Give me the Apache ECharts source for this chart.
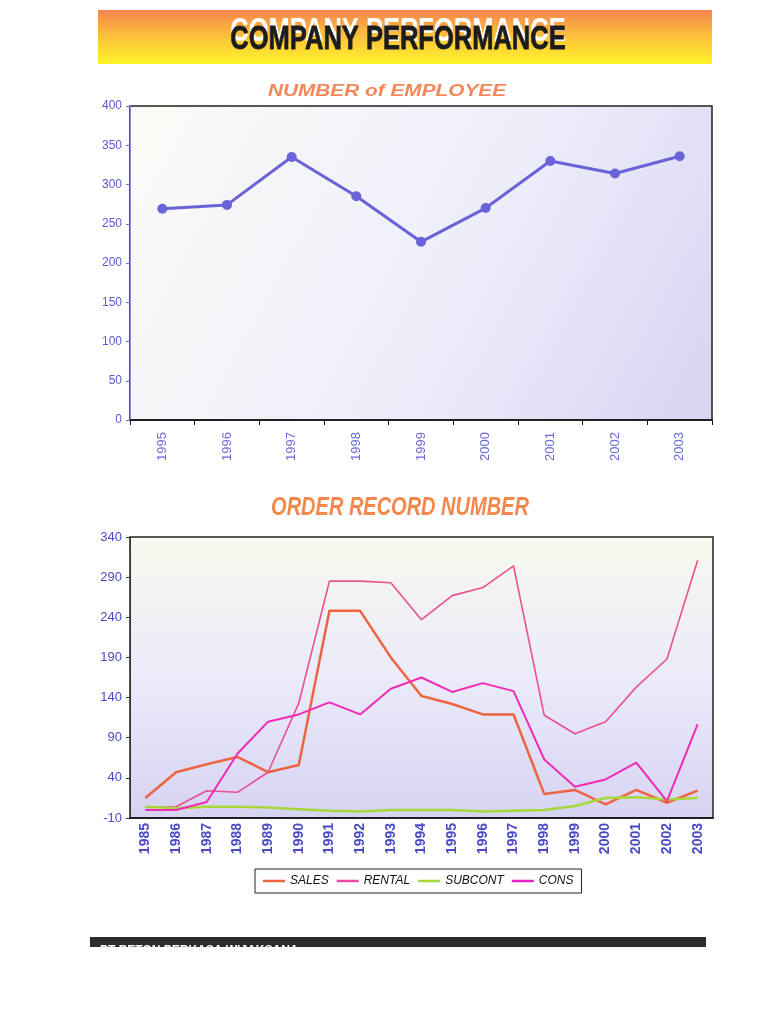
<!DOCTYPE html>
<html>
<head>
<meta charset="utf-8">
<title>Company Performance</title>
<script src="https://cdn.jsdelivr.net/npm/echarts@6/dist/echarts.min.js"></script>
<style>
  html, body { margin: 0; padding: 0; background: #fff; }
  #main { width: 768px; height: 1024px; }
</style>
</head>
<body>
<div id="main"></div>
<script>
// employee chart
const empYears = ['1995', '1996', '1997', '1998', '1999', '2000', '2001', '2002', '2003'];
const employees = [269, 274, 335, 285, 227, 270, 330, 314, 336];

// order record chart
const orderYears = ['1985', '1986', '1987', '1988', '1989', '1990', '1991', '1992', '1993', '1994',
    '1995', '1996', '1997', '1998', '1999', '2000', '2001', '2002', '2003'];
const sales   = [15, 47, 57, 66, 47, 56, 248, 248, 190, 142, 132, 119, 119, 20, 25, 7, 25, 9, 24];
const rental  = [3, 4, 24, 22, 47, 133, 285, 285, 283, 237, 267, 277, 304, 118, 95, 110, 153, 188, 311];
const subcont = [4, 2, 4, 4, 3, 1, -1, -2, 0, 0, 0, -2, -1, 0, 5, 15, 16, 13, 15];
const cons    = [0, 0, 10, 70, 110, 119, 134, 119, 151, 165, 147, 158, 148, 63, 29, 38, 59, 11, 107];

const FONT = '"Liberation Sans", Arial, sans-serif';

let chart = echarts.init(document.getElementById('main'), null, {renderer: 'canvas'});

/*plot area shading*/
let topBg = new echarts.graphic.LinearGradient(0, 0, 1, 1, [
    {offset: 0, color: '#fbfbf6'},
    {offset: 0.55, color: '#eeeefb'},
    {offset: 1, color: '#d8d3f2'}
]);
let bottomBg = new echarts.graphic.LinearGradient(0, 0, 0, 1, [
    {offset: 0, color: '#f8f8ee'},
    {offset: 0.5, color: '#ebebfa'},
    {offset: 1, color: '#d6d3f2'}
]);

let option = {
    backgroundColor: '#fff',
    animation: false,
    textStyle: {fontFamily: FONT},
    graphic: [
        {
            type: 'rect',
            shape: {x: 98, y: 10, width: 614, height: 54},
            style: {
                fill: new echarts.graphic.LinearGradient(0, 0, 0, 1, [
                    {offset: 0, color: '#f9844e'},
                    {offset: 0.45, color: '#fcbd3c'},
                    {offset: 1, color: '#fff42c'}
                ])
            }
        },
        // white echo of the title, shifted up
        {
            type: 'text', x: 398, y: 32, scaleX: 0.75,
            style: {text: 'COMPANY PERFORMANCE', fill: '#fff', textAlign: 'center',
                textVerticalAlign: 'middle', font: 'bold 34px ' + FONT}
        },
        {
            type: 'text', x: 398, y: 40, scaleX: 0.75,
            style: {text: 'COMPANY PERFORMANCE', fill: '#1c1c1c', textAlign: 'center',
                textVerticalAlign: 'middle', font: 'bold 34px ' + FONT,
                stroke: '#1c1c1c', lineWidth: 0.8}
        },
        {
            type: 'text', x: 387, y: 92, scaleX: 1.3,
            style: {text: 'NUMBER of EMPLOYEE', fill: '#f4885a', textAlign: 'center',
                textVerticalAlign: 'middle', font: 'italic bold 16px ' + FONT}
        },
        {
            type: 'text', x: 400, y: 508, scaleX: 0.8,
            style: {text: 'ORDER RECORD NUMBER', fill: '#f4884c', textAlign: 'center',
                textVerticalAlign: 'middle', font: 'italic bold 25px ' + FONT}
        },
        // footer strip, only the tops of the letters show in the bar
        {
            type: 'text', x: 100, y: 945,
            style: {text: 'PT BETON PERKASA WIJAKSANA', fill: '#fff', textAlign: 'left',
                textVerticalAlign: 'top', font: 'bold 12px ' + FONT}
        },
        {
            type: 'rect', z: -1,
            shape: {x: 90, y: 937, width: 616, height: 10},
            style: {fill: '#2b2b2b'}
        }
    ],
    legend: {
        data: ['SALES', 'RENTAL', 'SUBCONT', 'CONS'],
        icon: 'rect',
        left: 255,
        top: 869,
        itemWidth: 22,
        itemHeight: 2.5,
        itemGap: 8,
        padding: [6, 8],
        borderColor: '#222',
        borderWidth: 1,
        textStyle: {fontStyle: 'italic', fontSize: 12, color: '#111', fontFamily: FONT}
    },
    grid: [
        {left: 130, top: 106, width: 582, height: 314, show: true,
            backgroundColor: topBg, borderColor: '#222', borderWidth: 1.5},
        {left: 130, top: 537, width: 583, height: 281, show: true,
            backgroundColor: bottomBg, borderColor: '#222', borderWidth: 1.5}
    ],
    xAxis: [
        {
            gridIndex: 0, type: 'category', data: empYears, boundaryGap: true,
            axisLine: {onZero: false, lineStyle: {color: '#111', width: 1.5}},
            axisTick: {show: true, length: 5, lineStyle: {color: '#111'}},
            axisLabel: {rotate: 90, margin: 12, color: '#6a6ad8', fontSize: 13, fontFamily: FONT}
        },
        {
            gridIndex: 1, type: 'category', data: orderYears, boundaryGap: true,
            axisLine: {onZero: false, lineStyle: {color: '#111', width: 1.5}},
            axisTick: {show: false},
            axisLabel: {rotate: 90, margin: 5, color: '#4a4ac8', fontSize: 14,
                fontWeight: 'bold', fontFamily: FONT}
        }
    ],
    yAxis: [
        {
            gridIndex: 0, type: 'value', min: 0, max: 400, interval: 50,
            splitLine: {show: false},
            axisLine: {show: true, lineStyle: {color: '#8a8ae0', width: 1}},
            axisTick: {show: true, length: 4, lineStyle: {color: '#6a6ad8'}},
            axisLabel: {color: '#5a5ad0', fontSize: 12, margin: 8, fontFamily: FONT}
        },
        {
            gridIndex: 1, type: 'value', min: -10, max: 340, interval: 50,
            splitLine: {show: false},
            axisLine: {show: true, lineStyle: {color: '#333', width: 1}},
            axisTick: {show: true, length: 4, lineStyle: {color: '#333'}},
            axisLabel: {color: '#4a4ac8', fontSize: 13, margin: 8, fontFamily: FONT}
        }
    ],
    series: [
        {
            name: 'EMPLOYEE', type: 'line', xAxisIndex: 0, yAxisIndex: 0,
            data: employees,
            symbol: 'circle', symbolSize: 10,
            lineStyle: {color: '#6a62d8', width: 3},
            itemStyle: {color: '#6a62d8'}
        },
        {
            name: 'SALES', type: 'line', xAxisIndex: 1, yAxisIndex: 1,
            data: sales, symbol: 'none',
            lineStyle: {color: '#ee6442', width: 2.5},
            itemStyle: {color: '#ee6442'}
        },
        {
            name: 'RENTAL', type: 'line', xAxisIndex: 1, yAxisIndex: 1,
            data: rental, symbol: 'none',
            lineStyle: {color: '#e8508e', width: 1.6},
            itemStyle: {color: '#ee4aa0'}
        },
        {
            name: 'SUBCONT', type: 'line', xAxisIndex: 1, yAxisIndex: 1,
            data: subcont, symbol: 'none',
            lineStyle: {color: '#a6d83a', width: 2.5},
            itemStyle: {color: '#a6d83a'}
        },
        {
            name: 'CONS', type: 'line', xAxisIndex: 1, yAxisIndex: 1,
            data: cons, symbol: 'none',
            lineStyle: {color: '#ee2cb4', width: 2},
            itemStyle: {color: '#e422c4'}
        }
    ]
};

chart.setOption(option);
</script>
</body>
</html>
